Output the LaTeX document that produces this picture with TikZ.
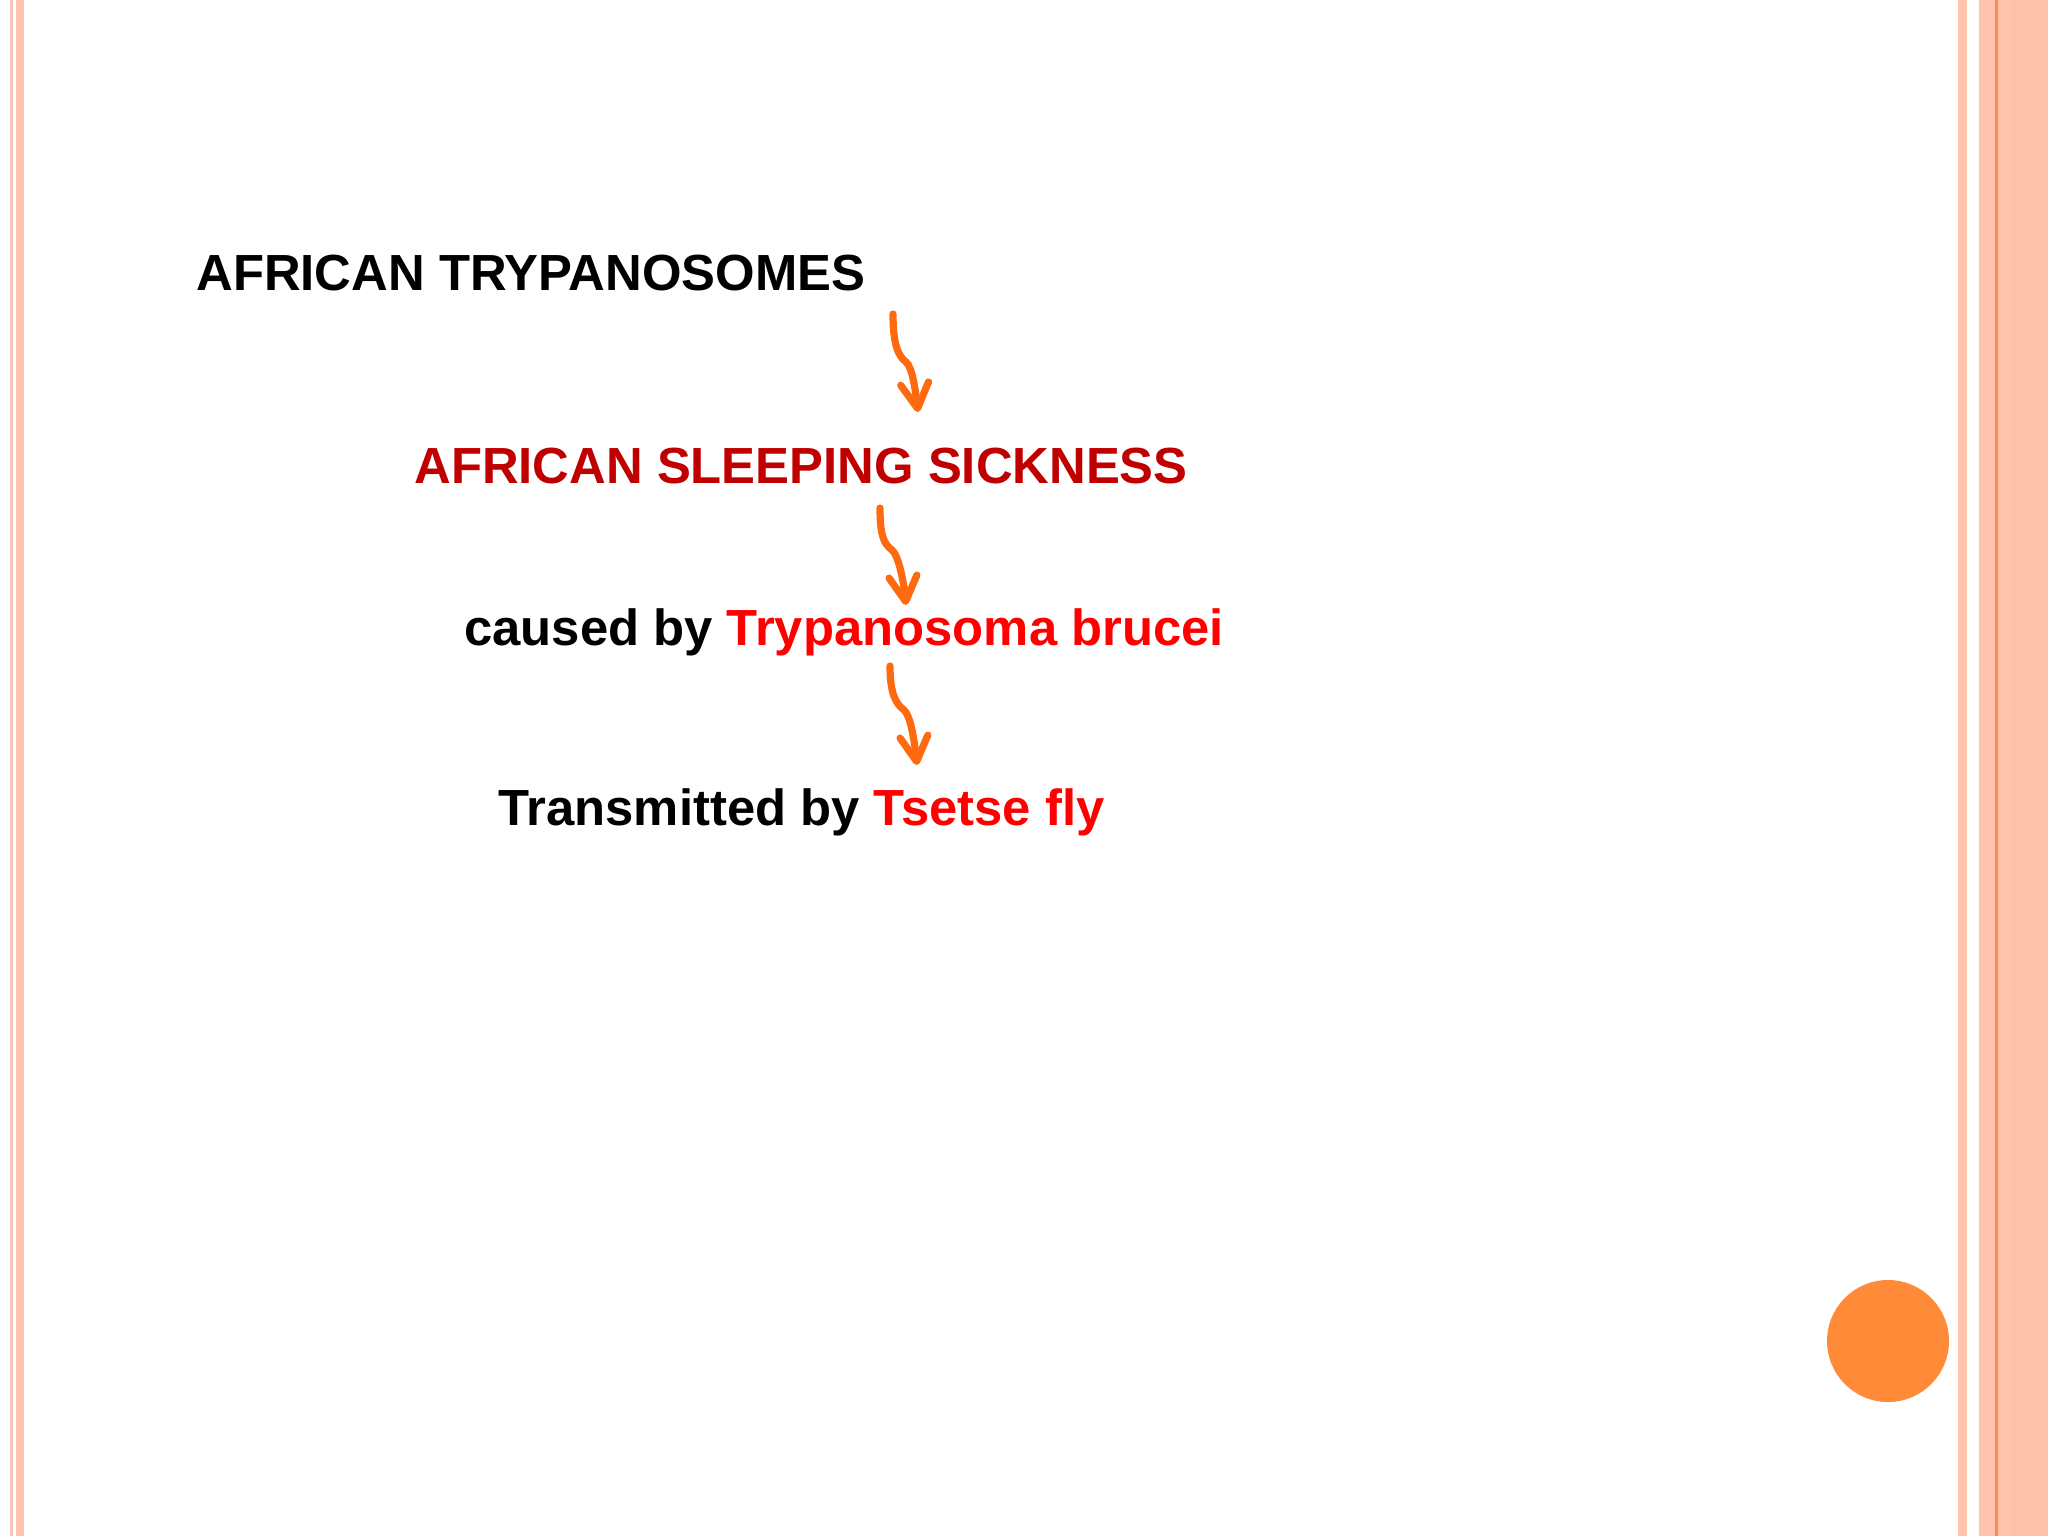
\documentclass[tikz,border=0pt]{standalone}
\usepackage{fontspec}
\setmainfont{Liberation Sans}
\usetikzlibrary{arrows.meta}
\definecolor{stripe}{HTML}{FFC4AE}
\definecolor{stripedark}{HTML}{FDC1A9}
\definecolor{thinline}{HTML}{F6C2BA}
\definecolor{orangeline}{HTML}{FF8C4C}
\definecolor{arrowc}{HTML}{FF6A10}
\definecolor{dotc}{HTML}{FF8A38}
\definecolor{darkred}{HTML}{C00000}
\definecolor{brightred}{HTML}{FF0000}
\tikzset{
  txt/.style={anchor=base west, inner sep=0pt, font=\fontsize{25.4}{30}\selectfont\bfseries},
  curlyarrow/.style={arrowc, line width=3.6pt, line cap=round,
    -{Straight Barb[length=12.5pt,width=14pt,line cap=round,line join=round]}},
}

\begin{document}
\begin{tikzpicture}[x=0.5pt,y=-0.5pt]
\useasboundingbox (0,0) rectangle (2048,1536);
\fill[white] (0,0) rectangle (2048,1536);
% borders
\fill[thinline] (9.5,0) rectangle (12.5,1536);
\fill[stripe] (16,0) rectangle (24,1536);
\fill[stripe] (1958,0) rectangle (1967,1536);
\fill[stripe] (1979,0) rectangle (2048,1536);
\fill[stripedark] (2012,0) rectangle (2048,1536);
\fill[orangeline] (1995,0) rectangle (1997.5,1536);
\fill[dotc] (1888,1341) circle[radius=61];
% text
\node[txt] (t1) at (196,290) {AFRICAN TRYPANOSOMES};
\node[txt, darkred] (t2) at (414,483) {AFRICAN SLEEPING SICKNESS};
\node[txt] (t3) at (464,645) {caused by {\color{brightred}Trypanosoma brucei}};
\node[txt] (t4) at (498,825) {Transmitted by {\color{brightred}Tsetse fly}};
% arrows
\coordinate (a1s) at (893,314);
\coordinate (a1m) at (906,362);
\coordinate (a1e) at (918,412);
\coordinate (a2s) at (880,508);
\coordinate (a2m) at (892,550);
\coordinate (a2e) at (906,605);
\coordinate (a3s) at (890,666);
\coordinate (a3m) at (904,710);
\coordinate (a3e) at (917,765);
\draw[curlyarrow] (a1s) .. controls +(0,30) and +(-8,-6) .. (a1m) .. controls +(6,5) and +(-3,-25) .. (a1e);
\draw[curlyarrow] (a2s) .. controls +(0,28) and +(-8,-6) .. (a2m) .. controls +(6,5) and +(-3,-28) .. (a2e);
\draw[curlyarrow] (a3s) .. controls +(0,28) and +(-8,-6) .. (a3m) .. controls +(6,5) and +(-3,-28) .. (a3e);
\end{tikzpicture}
\end{document}
